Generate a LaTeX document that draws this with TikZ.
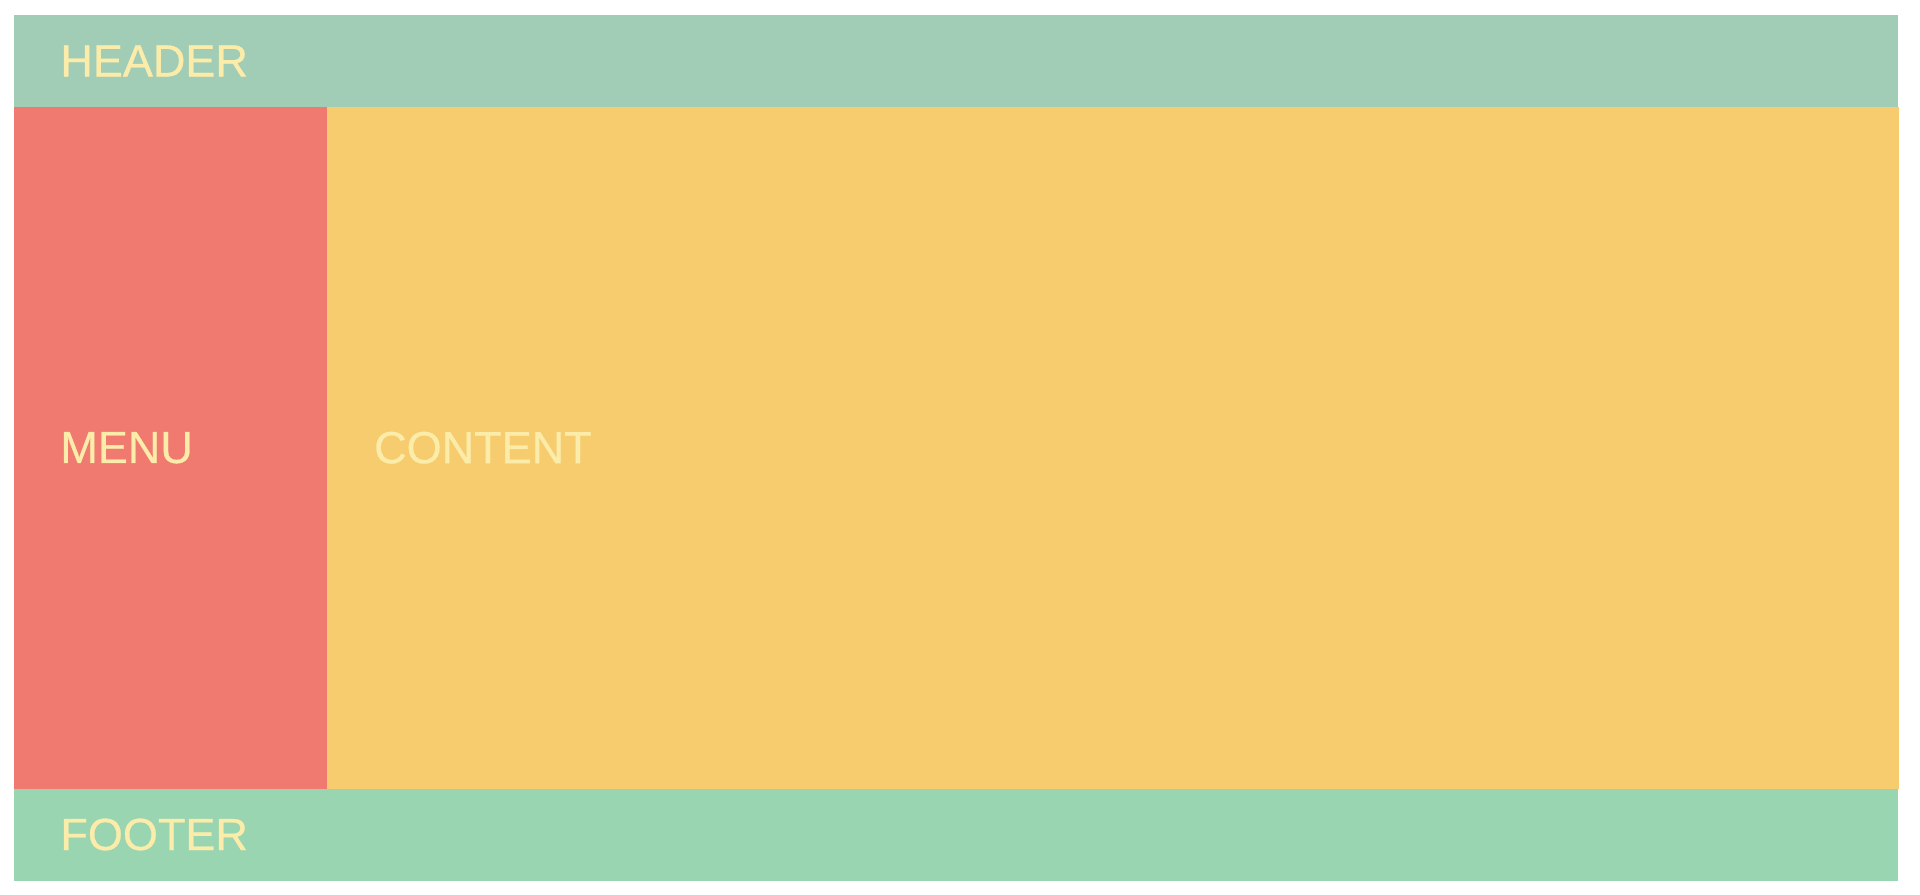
\documentclass[tikz,border=0pt]{standalone}
\usepackage{fontspec}
\setmainfont{Liberation Sans}[FakeBold=0.6]
\usepackage{tikz}

\definecolor{headcol}{RGB}{161,204,182}
\definecolor{menucol}{RGB}{240,121,112}
\definecolor{contentcol}{RGB}{247,204,110}
\definecolor{footcol}{RGB}{154,213,178}
\definecolor{labelcol}{RGB}{252,236,170}

\tikzset{
    block/.style={fill=#1, draw=#1, line width=0.4pt, anchor=north west,
        inner xsep=23.25pt, inner ysep=0pt, align=left, text=labelcol,
        font=\fontsize{22.5}{26}\selectfont},
}

\begin{document}
\begin{tikzpicture}
        \useasboundingbox (0,0) rectangle (960pt,-447pt);
        \node[block=headcol, text width=895.25pt, minimum height=45.5pt]
            (header) at (6.75pt,-7.5pt) {HEADER};
        \node[block=menucol, text width=110pt, minimum height=340.5pt]
            (menu) at (header.south west) {MENU};
        \node[block=contentcol, text width=738.75pt, minimum height=340.5pt]
            (content) at (menu.north east) {CONTENT};
        \node[block=footcol, text width=895.25pt, minimum height=45.5pt]
            (footer) at (menu.south west) {FOOTER};
    \end{tikzpicture}
\end{document}
